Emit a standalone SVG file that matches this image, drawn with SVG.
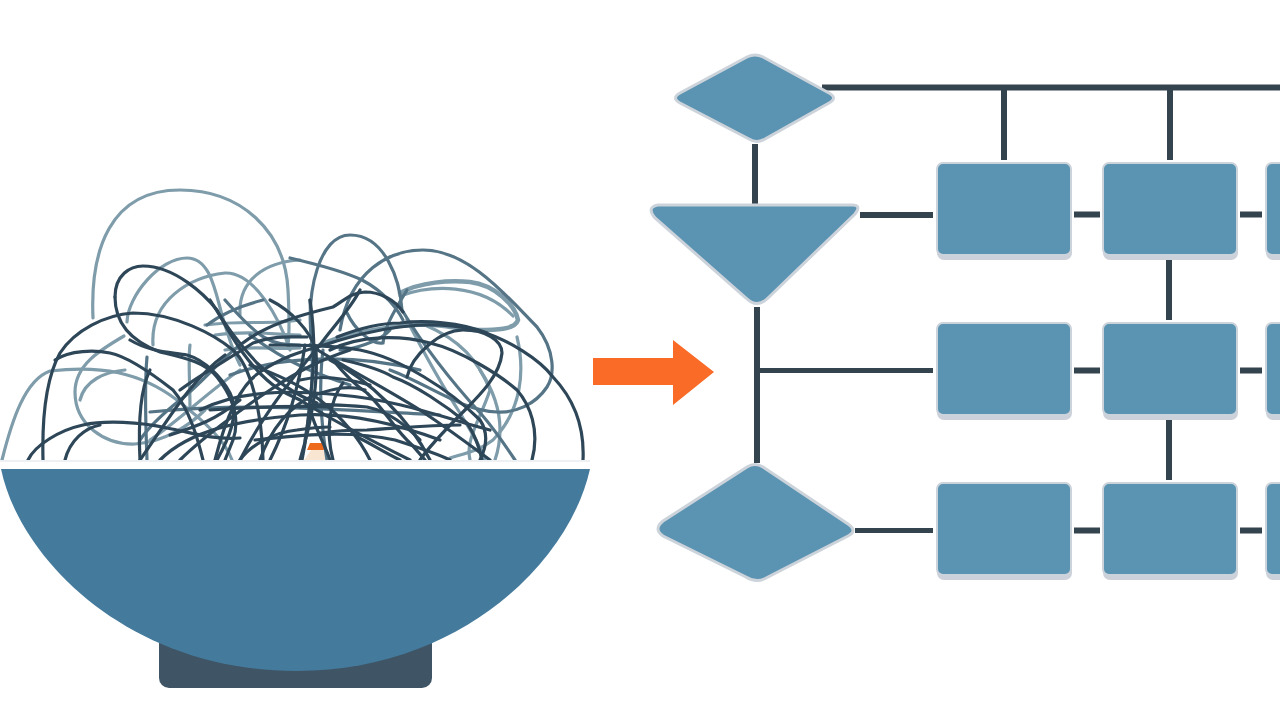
<svg xmlns="http://www.w3.org/2000/svg" width="1280" height="720" viewBox="0 0 1280 720">
<style>
.n{fill:#5b93b2;stroke:#ccd3da;stroke-width:3}
.sh{fill:#cdd2da}
.c{stroke:#34444f;stroke-width:6;fill:none}
.c5{stroke-width:5}
.l{fill:none;stroke:#7f9cab;stroke-width:3.200;stroke-linecap:round}
.m{fill:none;stroke:#557587;stroke-width:3.200;stroke-linecap:round}
.d{fill:none;stroke:#2f4759;stroke-width:3.200;stroke-linecap:round}
</style>
<defs>
<clipPath id="above"><rect x="0" y="0" width="600" height="460"/></clipPath>
<filter id="soft" x="-5%" y="-5%" width="110%" height="110%"><feGaussianBlur stdDeviation="0.600"/></filter>
<g id="box"><rect x="1" y="6" width="135" height="92" rx="7" class="sh"/><rect x="1" y="1" width="134" height="92" rx="6" class="n" style="stroke-width:2"/></g>
</defs>
<rect width="1280" height="720" fill="#fff"/>
<g clip-path="url(#above)">
<g id="noodles" filter="url(#soft)">
<path d="M304 460L314 446L320 446L331 460Z" fill="#f8e6d2"/>
<path d="M307 450L310 443H322L325 450Z" fill="#ee6a1e"/>
<g class="lights">
<path class="l" d="M93 318C90 250 110 190 180 190C240 190 285 230 288 290C289 310 290 330 288 345"/>
<path class="l" d="M2 460C12 420 25 380 50 371C100 365 140 372 177 400C205 422 225 440 232 460"/>
<path class="l" d="M124 336C100 350 75 365 75 392C75 425 105 445 135 444C165 442 190 425 205 410"/>
<path class="l" d="M80 400C85 380 105 372 125 370"/>
<path class="l" d="M127 322C128 295 160 258 187 258C210 258 215 290 222 315C228 335 232 350 240 365"/>
<path class="l" d="M153 345C150 300 190 277 225 273C255 272 280 320 290 350"/>
<path class="l" d="M240 315C238 280 265 262 300 260"/>
<path class="l" d="M190 410C190 380 188 360 190 345"/>
<path class="l" d="M205 325C240 320 270 325 300 320M215 335C250 330 280 335 300 335M225 350C250 345 280 350 300 348"/>
<path class="l" d="M150 440C180 420 210 390 240 370"/>
<path class="l" d="M517 337C525 370 522 410 493 440C480 450 470 452 450 458"/>
<path class="l" d="M470 460C465 440 480 420 490 390C478 360 460 340 425 325"/>
<path class="l" d="M495 460C505 430 500 400 480 370"/>
<path class="l" style="stroke-width:4.500" d="M400 293C420 282 450 280 470 282C495 285 515 305 518 320C515 330 495 330 477 330C450 328 430 322 400 326C370 330 340 335 320 345"/>
<path class="l" d="M400 296C430 285 480 282 513 316"/>
<path class="l" d="M407 320C425 355 445 390 460 413C470 430 480 445 485 460"/>
</g>
<g class="mids">
<path class="m" d="M312 345C305 290 320 235 350 235C385 235 400 280 402 310C420 340 450 380 482 415C495 430 505 445 515 460"/>
<path class="m" d="M340 330C350 270 390 250 423 250C470 250 510 300 537 327C555 350 555 375 547 387C535 405 515 413 497 412C460 410 430 385 390 370"/>
<path class="m" d="M240 345C220 360 200 385 180 400C165 412 150 425 140 440"/>
<path class="m" d="M150 412C250 402 340 410 440 415"/>
<path class="m" d="M290 258C320 265 345 272 362 280C385 292 398 310 403 320"/>
<path class="m" d="M310 300C312 340 316 380 305 440"/>
<path class="m" d="M340 350C350 350 380 342 390 330"/>
<path class="m" d="M230 375C270 360 340 350 420 370"/>
<path class="m" d="M147 357C144 390 146 430 147 460"/>
<path class="m" d="M323 350C318 390 322 430 327 460"/>
<path class="m" d="M207 325C220 315 240 306 263 300"/>
<path class="m" d="M225 300C260 340 270 345 300 345"/>
<path class="m" d="M250 335C290 365 320 375 350 385"/>
<path class="m" d="M347 313C355 330 372 345 383 343C385 325 395 310 407 290"/>
</g>
<g class="darks">
<path class="d" d="M115 297C115 275 130 266 143 266C175 266 205 295 217 310C235 345 250 365 267 380C280 392 290 395 300 400C340 425 380 445 410 460"/>
<path class="d" d="M115 297C115 320 128 340 160 352C185 358 205 362 217 377C235 400 240 420 233 440L225 460"/>
<path class="d" d="M43 460C42 420 45 380 60 353C75 330 105 315 133 313C175 313 215 335 233 350C250 365 262 410 263 460"/>
<path class="d" d="M55 360C70 350 95 350 110 353C125 356 150 372 173 390C190 410 198 440 203 460"/>
<path class="d" d="M28 460C35 445 60 430 83 425C105 420 140 422 167 428C190 432 210 440 240 438"/>
<path class="d" d="M65 460C70 440 85 428 100 425"/>
<path class="d" d="M583 460C585 420 570 395 553 377C540 360 510 340 477 330C440 322 400 322 340 340C310 350 290 352 260 372C240 385 225 420 215 460"/>
<path class="d" d="M532 460C540 430 530 405 517 390C500 375 460 350 430 343C400 335 360 335 330 350"/>
<path class="d" d="M407 377C412 355 440 330 463 330C485 330 502 340 502 353C500 375 480 395 465 410C450 425 430 445 420 460"/>
<path class="d" d="M270 300C290 310 310 330 316 350C318 380 312 420 300 460"/>
<path class="d" d="M240 460C260 420 290 380 320 345C330 330 350 310 360 290"/>
<path class="d" d="M270 345C300 345 330 345 360 350C400 358 450 390 480 420C490 435 485 450 480 460"/>
<path class="d" d="M330 360C370 380 410 420 430 460"/>
<path class="d" d="M310 345C340 365 380 385 420 410C450 430 470 445 490 460"/>
<path class="d" d="M200 410C240 390 290 390 340 395C400 400 450 420 490 430"/>
<path class="d" d="M160 460C190 430 240 420 300 415C350 412 400 425 440 440"/>
<path class="d" d="M260 460C270 430 290 405 315 395C335 388 350 385 365 390"/>
<path class="d" d="M180 460C200 440 240 410 270 390C300 370 320 360 350 350"/>
<path class="d" d="M330 460C325 445 316 430 310 410"/>
<path class="d" d="M370 460C360 440 345 420 320 400C300 385 280 375 250 365"/>
<path class="d" d="M240 345C265 325 300 315 333 307C345 300 350 293 365 292C380 292 395 300 403 312"/>
<path class="d" d="M140 460C165 425 190 380 225 355"/>
<path class="d" d="M270 460C290 420 300 380 305 345"/>
<path class="d" d="M255 440C300 435 350 430 395 440C420 448 440 455 450 460"/>
<path class="d" d="M130 340C150 352 170 352 187 355C205 360 222 378 230 393C240 415 228 440 217 460"/>
<path class="d" d="M210 300C225 325 240 345 257 363C275 380 295 395 317 403"/>
<path class="d" d="M180 390C200 375 222 363 253 343C275 335 290 337 307 337"/>
<path class="d" d="M210 410C240 408 290 405 330 407"/>
<path class="d" d="M240 460C250 445 275 432 297 430C310 428 320 427 330 427"/>
<path class="d" d="M310 300C316 340 314 370 310 400C308 425 305 445 302 460"/>
<path class="d" d="M140 460C138 420 140 390 150 370"/>
<path class="d" d="M337 337C360 328 380 323 400 323C425 320 460 322 487 333"/>
<path class="d" d="M343 360C365 365 385 372 393 377C415 385 445 405 467 423C475 435 480 450 482 460"/>
<path class="d" d="M333 360C345 375 355 385 367 393C385 410 395 430 412 445L425 460"/>
<path class="d" d="M300 407C320 403 345 405 367 407C390 412 405 425 420 440"/>
<path class="d" d="M320 433C340 430 355 430 367 430C400 428 430 425 460 425"/>
<path class="d" d="M333 460C325 430 330 400 343 383"/>
<path class="d" d="M357 437C370 443 380 450 400 460"/>
<path class="d" d="M300 380C320 375 345 378 370 385"/>
<path class="d" d="M170 435C200 425 215 420 240 400"/>
</g>
</g>
</g>
<g id="bowl">
<line x1="0" y1="461" x2="590" y2="461" stroke="#dde2e6" stroke-width="1"/>
<rect x="159" y="630" width="273" height="58" rx="10" fill="#3f5566"/>
<path d="M1 469H590C570 560 462 671 296 671C130 671 20 560 1 469Z" fill="#447a9c"/>
</g>
<path id="arrow" d="M593 358H673V340L714 372L673 405V385H593Z" fill="#f96b26"/>
<g id="connectors">
<path class="c" d="M822 87.500H1280M1004 87V160M1170 87V160M755 144V204M757 307V463M860 215H933"/>
<path class="c c5" d="M757 370.500H933M855 530.500H933"/>
<path class="c" d="M1074 214.500H1100M1074 370.500H1100M1074 530.500H1100M1240 214.500H1262M1240 370.500H1262M1240 530.500H1262M1169 260V320M1169 420V480"/>
</g>
<g id="diamond-top"><path class="n" d="M680 93L747 57Q755 53 763 57L829 93Q838 98 829 103L765 139Q757 144 749 139L680 103Q671 98 680 93Z"/></g>
<g id="triangle"><path class="n" d="M658 205H852Q862 205 855 214L768 298Q757 309 746 298L655 218Q646 207 658 205Z"/></g>
<g id="diamond-bottom"><path class="n" d="M747 467Q755 462 763 467L848 524Q858 531 848 536L768 577Q757 584 746 577L663 536Q653 529 663 521Z"/></g>
<g id="box-1-1"><use href="#box" x="936" y="162"/></g>
<g id="box-1-2"><use href="#box" x="1102" y="162"/></g>
<g id="box-1-3"><use href="#box" x="1265" y="162"/></g>
<g id="box-2-1"><use href="#box" x="936" y="322"/></g>
<g id="box-2-2"><use href="#box" x="1102" y="322"/></g>
<g id="box-2-3"><use href="#box" x="1265" y="322"/></g>
<g id="box-3-1"><use href="#box" x="936" y="482"/></g>
<g id="box-3-2"><use href="#box" x="1102" y="482"/></g>
<g id="box-3-3"><use href="#box" x="1265" y="482"/></g>
</svg>
